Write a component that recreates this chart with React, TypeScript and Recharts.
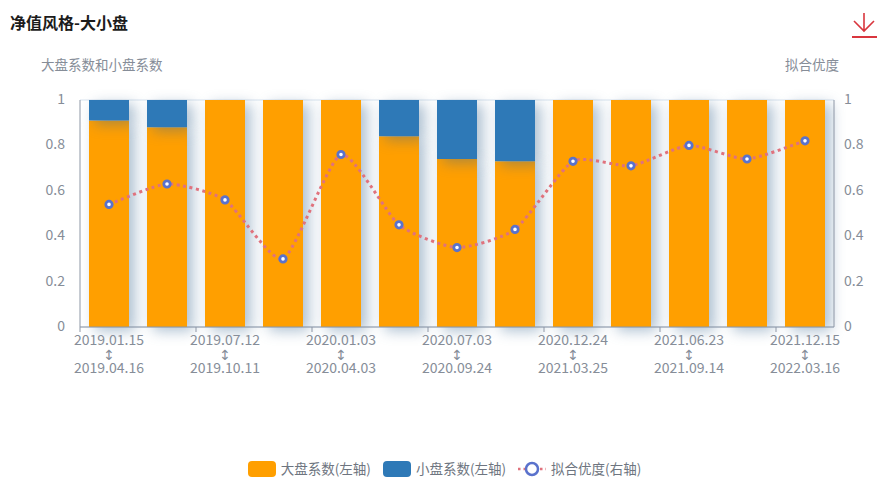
import { ComposedChart, Bar, Line, XAxis, YAxis, CartesianGrid, Legend } from "recharts";

const startDates = ["2019.01.15", "2019.04.17", "2019.07.12", "2019.10.12", "2020.01.03", "2020.04.07", "2020.07.03", "2020.09.25", "2020.12.24", "2021.03.26", "2021.06.23", "2021.09.15", "2021.12.15"];
const endDates = ["2019.04.16", "2019.07.11", "2019.10.11", "2020.01.02", "2020.04.03", "2020.07.02", "2020.09.24", "2020.12.23", "2021.03.25", "2021.06.22", "2021.09.14", "2021.12.14", "2022.03.16"];
const largeCap = [0.91, 0.88, 1, 1, 1, 0.84, 0.74, 0.73, 1, 1, 1, 1, 1];
const smallCap = [0.09, 0.12, 0, 0, 0, 0.16, 0.26, 0.27, 0, 0, 0, 0, 0];
const fitScore = [0.54, 0.63, 0.56, 0.3, 0.76, 0.45, 0.35, 0.43, 0.73, 0.71, 0.8, 0.74, 0.82];
const yTicks = [0, 0.2, 0.4, 0.6, 0.8, 1];

const FONT = "'Noto Sans CJK SC', 'Noto Sans', sans-serif";
const TEXT = "#868d98";
const AXIS = "#8d96a5";
const BAR_SHADOW = "drop-shadow(6px 4px 7px rgba(60, 105, 145, 0.42))";

const chartData = startDates.map((start, i) => ({
	label: `${start}|${endDates[i]}`,
	large: largeCap[i],
	small: smallCap[i],
	fit: fitScore[i],
}));

// nearly straight segments, only rounded a little at each point
function softCurve(context: any) {
	let pts: [number, number][] = [];
	return {
		areaStart() {},
		areaEnd() {},
		lineStart() {
			pts = [];
		},
		point(x: number, y: number) {
			pts.push([x, y]);
		},
		lineEnd() {
			const k = 0.1;
			pts.forEach((p, i) => {
				if (i === 0) {
					context.moveTo(p[0], p[1]);
					return;
				}
				const p0 = pts[i - 1];
				const before = pts[i - 2] ?? p0;
				const after = pts[i + 1] ?? p;
				context.bezierCurveTo(
					p0[0] + (p[0] - before[0]) * k,
					p0[1] + (p[1] - before[1]) * k,
					p[0] - (after[0] - p0[0]) * k,
					p[1] - (after[1] - p0[1]) * k,
					p[0],
					p[1],
				);
			});
		},
	};
}

function DateTick({ x, y, payload }: any) {
	const [start, end] = String(payload.value).split("|");
	return (
		<g fontFamily={FONT}
		   fontSize={14}
		   fill={TEXT}
		   textAnchor="middle">
			<line x1={x - 29}
			      x2={x - 29}
			      y1={y - 8}
			      y2={y - 3}
			      stroke={AXIS} />
			<text x={x} y={y + 10}>{start}</text>
			<text x={x} y={y + 25} fontFamily="'DejaVu Sans'">↕</text>
			<text x={x} y={y + 38}>{end}</text>
		</g>
	);
}

function LegendMark({ type }: { type: string }) {
	if (type === "line") {
		return (
			<svg width={28} height={16}>
				<line x1={0} x2={28} y1={8} y2={8} stroke="#e0727d" strokeWidth={2.5} strokeDasharray="2.5 3" />
				<circle cx={14} cy={8} r={6} fill="#fff" stroke="#5a72cc" strokeWidth={2.5} />
			</svg>
		);
	}
	return <span style={{ display: "block", width: 28, height: 16, borderRadius: 4, background: type }} />;
}

function renderLegend({ payload }: any) {
	return (
		<div style={{ display: "flex", justifyContent: "center", gap: 12, fontFamily: FONT, fontSize: 13.5, color: "#6e7580" }}>
			{payload.map((item: any) => (
				<div key={item.value} style={{ display: "flex", alignItems: "center", gap: 5 }}>
					<LegendMark type={item.type === "line" ? "line" : item.color} />
					<span style={{ position: "relative", top: -1 }}>{item.value}</span>
				</div>
			))}
		</div>
	);
}

export default function App() {
	return (
		<div style={{ position: "relative", width: 889, height: 492, background: "#fff", overflow: "hidden" }}>
			<style>{"body { margin: 0; }"}</style>
			<div style={{ position: "absolute", left: 10, top: 10, fontFamily: FONT, fontSize: 16, fontWeight: 700, color: "#1c1c1c" }}>
				净值风格-大小盘
			</div>
			<svg style={{ position: "absolute", left: 850, top: 11 }} width={28} height={28}>
				<path d="M14 2 V20 M4 10 L14 20 L24 10" fill="none" stroke="#d9363e" strokeWidth={1.6} />
				<line x1={2} x2={27} y1={26} y2={26} stroke="#d9363e" strokeWidth={2} />
			</svg>
			<div style={{ position: "absolute", left: 41, top: 54, fontFamily: FONT, fontSize: 13.5, color: TEXT }}>
				大盘系数和小盘系数
			</div>
			<div style={{ position: "absolute", left: 785, top: 54, fontFamily: FONT, fontSize: 13.5, color: TEXT }}>
				拟合优度
			</div>
			<ComposedChart width={889}
			               height={492}
			               data={chartData}
			               barSize={40}
			               margin={{ top: 100, right: 0, left: 0, bottom: 85 }}
			               style={{ position: "absolute", left: 0, top: 0 }}>
				<CartesianGrid vertical={false}
				               stroke="#d8e3ee" />
				<XAxis dataKey="label"
				       interval={1}
				       height={60}
				       axisLine={{ stroke: AXIS }}
				       tickLine={false}
				       tick={<DateTick />} />
				<YAxis yAxisId="left"
				       width={80}
				       domain={[0, 1]}
				       ticks={yTicks}
				       tickMargin={9}
				       axisLine={{ stroke: AXIS }}
				       tickLine={false}
				       tick={{ fontSize: 14, fill: TEXT, fontFamily: FONT, dy: -1 }} />
				<YAxis yAxisId="right"
				       orientation="right"
				       width={55}
				       domain={[0, 1]}
				       ticks={yTicks}
				       tickMargin={4}
				       axisLine={{ stroke: AXIS }}
				       tickLine={false}
				       tick={{ fontSize: 14, fill: TEXT, fontFamily: FONT, dy: -1 }} />
				<Legend content={renderLegend}
				        wrapperStyle={{ position: "absolute", left: 0, top: 459, width: 889, height: 20 }} />
				<Bar yAxisId="left"
				     dataKey="large"
				     name="大盘系数(左轴)"
				     stackId="a"
				     fill="#ff9f00"
				     style={{ filter: BAR_SHADOW }}
				     isAnimationActive={false} />
				<Bar yAxisId="left"
				     dataKey="small"
				     name="小盘系数(左轴)"
				     stackId="a"
				     fill="#2e79b7"
				     style={{ filter: BAR_SHADOW }}
				     isAnimationActive={false} />
				<Line yAxisId="right"
				      dataKey="fit"
				      name="拟合优度(右轴)"
				      type={softCurve as any}
				      stroke="#e0727d"
				      strokeWidth={3}
				      strokeDasharray="3 3.5"
				      dot={{ r: 3.2, fill: "#fff", stroke: "#5a72cc", strokeWidth: 2.8, strokeDasharray: "none" }}
				      isAnimationActive={false} />
			</ComposedChart>
		</div>
	);
}
